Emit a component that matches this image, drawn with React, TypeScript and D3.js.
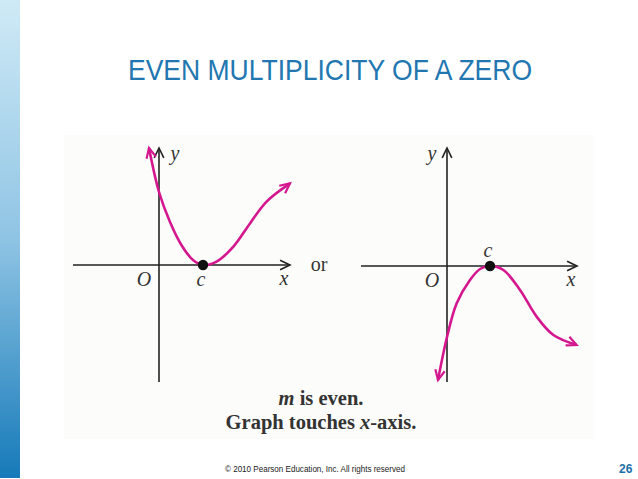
import React from "react";
import * as d3 from "d3";

const W = 638;
const H = 479;

const titleText = "EVEN MULTIPLICITY OF A ZERO";
const footerText = "© 2010 Pearson Education, Inc.  All rights reserved";
const pageNumber = "26";
const captionLine1 = ["m", " is even."];
const captionLine2 = ["Graph touches ", "x", "-axis."];

// Axis extents in math units (x: left..right, y: bottom..top)
const leftAxisX: [number, number] = [-4.3, 6.55];
const leftAxisY: [number, number] = [-5.85, 5.85];
const rightAxisX: [number, number] = [-4.3, 6.5];
const rightAxisY: [number, number] = [-5.8, 5.9];

// Zero location c
const leftZero = 2.2;
const rightZero = 2.15;

// Curve points
const leftCurveX = [-0.5, 0, 0.55, 1.15, 1.7, 2.2, 2.88, 3.72, 4.55, 5.38, 6.55];
const leftCurveY = [5.85, 3.65, 2.15, 0.95, 0.25, 0, 0.17, 0.92, 2.08, 3.17, 4.08];
const rightCurveX = [-0.45, 0, 0.48, 1.15, 1.65, 2.15, 2.82, 3.65, 4.48, 5.32, 6.48];
const rightCurveY = [-5.7, -3.55, -1.87, -0.7, -0.15, 0, -0.2, -1.2, -2.53, -3.45, -3.95];

const UNIT = 20;

type PanelProps = {
  ox: number;
  oy: number;
  axisX: [number, number];
  axisY: [number, number];
  cx: number[];
  cy: number[];
  zero: number;
  cAbove: boolean;
  yLabelLeft: boolean;
};

function arrowHead(tipX: number, tipY: number, angle: number, size: number) {
  const a1 = angle + Math.PI - 0.45;
  const a2 = angle + Math.PI + 0.45;
  return `M${tipX + size * Math.cos(a1)},${tipY + size * Math.sin(a1)}L${tipX},${tipY}L${tipX + size * Math.cos(a2)},${tipY + size * Math.sin(a2)}`;
}

function Panel(p: PanelProps) {
  const x = d3.scaleLinear().domain([0, 1]).range([p.ox, p.ox + UNIT]);
  const y = d3.scaleLinear().domain([0, 1]).range([p.oy, p.oy - UNIT]);
  const pts: [number, number][] = p.cx.map((v, i) => [x(v), y(p.cy[i])]);
  const line = d3.line().curve(d3.curveCatmullRom.alpha(0.5));
  const axisColor = "#222";
  const pink = "#d4178f";
  const n = pts.length;
  const startAng = Math.atan2(pts[0][1] - pts[1][1], pts[0][0] - pts[1][0]);
  const endAng = Math.atan2(pts[n - 1][1] - pts[n - 2][1], pts[n - 1][0] - pts[n - 2][0]);
  const serif = "'Liberation Serif', 'DejaVu Serif', serif";
  return (
    <g>
      <line x1={x(p.axisX[0])} x2={x(p.axisX[1])} y1={y(0)} y2={y(0)} stroke={axisColor} strokeWidth={1.6} />
      <path d={arrowHead(x(p.axisX[1]), y(0), 0, 11)} fill="none" stroke={axisColor} strokeWidth={1.6} />
      <line x1={x(0)} x2={x(0)} y1={y(p.axisY[0])} y2={y(p.axisY[1])} stroke={axisColor} strokeWidth={1.6} />
      <path d={arrowHead(x(0), y(p.axisY[1]), -Math.PI / 2, 11)} fill="none" stroke={axisColor} strokeWidth={1.6} />
      <path d={line(pts) || ""} fill="none" stroke={pink} strokeWidth={2.6} />
      <path d={arrowHead(pts[0][0], pts[0][1], startAng, 11)} fill="none" stroke={pink} strokeWidth={2.2} />
      <path d={arrowHead(pts[n - 1][0], pts[n - 1][1], endAng, 11)} fill="none" stroke={pink} strokeWidth={2.2} />
      <circle cx={x(p.zero)} cy={y(0)} r={5.2} fill="#111" />
      <text x={x(0) - 15} y={y(0) + 21} fontFamily={serif} fontStyle="italic" fontSize={20} fill="#333" textAnchor="middle">O</text>
      <text x={x(p.zero) - 2} y={p.cAbove ? y(0) - 9 : y(0) + 21} fontFamily={serif} fontStyle="italic" fontSize={20} fill="#333" textAnchor="middle">c</text>
      <text x={x(p.axisX[1]) - 6} y={y(0) + 20} fontFamily={serif} fontStyle="italic" fontSize={20} fill="#333" textAnchor="middle">x</text>
      <text x={p.yLabelLeft ? x(0) - 15 : x(0) + 16} y={y(p.axisY[1]) + 12} fontFamily={serif} fontStyle="italic" fontSize={20} fill="#333" textAnchor="middle">y</text>
    </g>
  );
}

export default function App() {
  const grad = "sideGrad";
  const serif = "'Liberation Serif', 'DejaVu Serif', serif";
  return (
    <svg width={W} height={H} style={{ position: "absolute", left: 0, top: 0, display: "block" }}>
      <defs>
        <linearGradient id={grad} x1="0" y1="0" x2="0" y2="1">
          <stop offset="0" stopColor="#cfeaf6" />
          <stop offset="0.5" stopColor="#8fc4e4" />
          <stop offset="1" stopColor="#167ab9" />
        </linearGradient>
      </defs>
      <rect x={0} y={0} width={W} height={H} fill="#ffffff" />
      <rect x={0} y={0} width={20} height={478} fill={`url(#${grad})`} />
      <rect x={64} y={135} width={530} height={304} fill="#fcfcfa" />
      <text x={128} y={80} fontFamily="'Liberation Sans Narrow', 'Liberation Sans', Arial, sans-serif" fontSize={30} fill="#2277b0" textLength={404} lengthAdjust="spacingAndGlyphs">{titleText}</text>
      <Panel ox={159} oy={265} axisX={leftAxisX} axisY={leftAxisY} cx={leftCurveX} cy={leftCurveY} zero={leftZero} cAbove={false} yLabelLeft={false} />
      <Panel ox={447} oy={266} axisX={rightAxisX} axisY={rightAxisY} cx={rightCurveX} cy={rightCurveY} zero={rightZero} cAbove={true} yLabelLeft={true} />
      <text x={319} y={271} fontFamily={serif} fontSize={20} fill="#333" textAnchor="middle">or</text>
      <text x={321} y={405} fontFamily={serif} fontWeight="bold" fontSize={20.5} fill="#333" textAnchor="middle">
        <tspan fontStyle="italic">{captionLine1[0]}</tspan>
        <tspan>{captionLine1[1]}</tspan>
      </text>
      <text x={321} y={429} fontFamily={serif} fontWeight="bold" fontSize={20.5} fill="#333" textAnchor="middle">
        <tspan>{captionLine2[0]}</tspan>
        <tspan fontStyle="italic">{captionLine2[1]}</tspan>
        <tspan>{captionLine2[2]}</tspan>
      </text>
      <text x={225} y={472} fontFamily="'Liberation Sans', Arial, sans-serif" fontSize={9} fill="#222" textLength={180} lengthAdjust="spacingAndGlyphs">{footerText}</text>
      <text x={619} y={473} fontFamily="'Liberation Sans', Arial, sans-serif" fontWeight="bold" fontSize={12} fill="#1f6fa8">{pageNumber}</text>
    </svg>
  );
}
